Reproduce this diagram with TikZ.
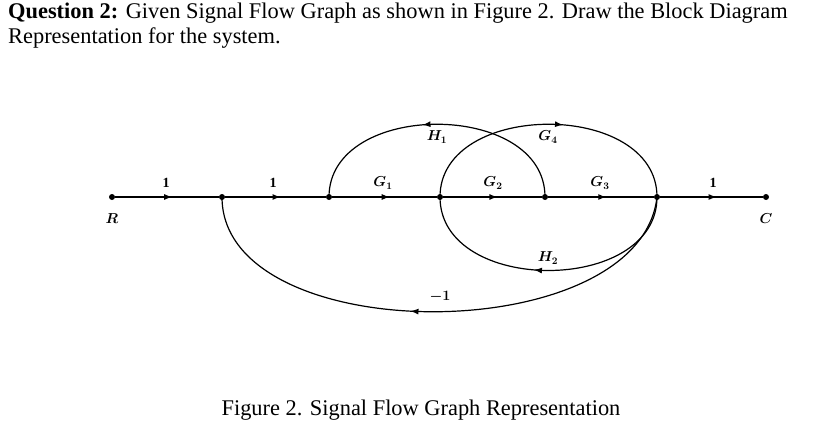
\documentclass[tikz,border=0pt]{standalone}
\usepackage{fontspec}
\setmainfont{Liberation Serif}
\usetikzlibrary{decorations.markings,arrows.meta}
\begin{document}
\begin{tikzpicture}[x=1pt,y=-1pt,
  br/.style={line width=1.2pt,postaction={decorate},decoration={markings,mark=at position 0.55 with {\arrow{Latex[length=8pt,width=6pt]}}}},
  dot/.style={circle,fill,inner sep=0pt,minimum size=6pt},
  lab/.style={font=\bfseries\boldmath\fontsize{14}{16}\selectfont}]
\useasboundingbox (0,0) rectangle (827,433);
\node[anchor=north west,align=left,inner sep=0pt,font=\fontsize{22.4}{25}\selectfont] (title) at (8,3) {\textbf{Question 2:} Given Signal Flow Graph as shown in Figure 2. Draw the Block Diagram\\Representation for the system.};
\foreach \n/\x in {r/112,a/222,b/329,c/440,d/545,e/657,f/766}
  \node[dot] (\n) at (\x,197) {};
\draw[br] (r) -- (a);
\draw[br] (a) -- (b);
\draw[br] (b) -- (c);
\draw[br] (c) -- (d);
\draw[br] (d) -- (e);
\draw[br] (e) -- (f);
\draw[br] (d.center) .. controls (545,100) and (329,100) .. (b.center);
\draw[br] (c.center) .. controls (440,100) and (657,100) .. (e.center);
\draw[br] (e.center) .. controls (657,295) and (440,295) .. (c.center);
\draw[br] (e.center) .. controls (640,350) and (222,350) .. (a.center);
\node[lab] at (166,183) {1};
\node[lab] at (273,183) {1};
\node[lab] at (383,183) {$G_1$};
\node[lab] at (493,183) {$G_2$};
\node[lab] at (600,183) {$G_3$};
\node[lab] at (713,183) {1};
\node[lab] at (437,137) {$H_1$};
\node[lab] at (548,137) {$G_4$};
\node[lab] at (548,258) {$H_2$};
\node[lab] at (440,297) {$-1$};
\node[lab] at (112,219) {$R$};
\node[lab] at (766,219) {$C$};
\node[font=\fontsize{22.4}{26}\selectfont] (cap) at (421,410) {Figure 2. Signal Flow Graph Representation};
\end{tikzpicture}
\end{document}
